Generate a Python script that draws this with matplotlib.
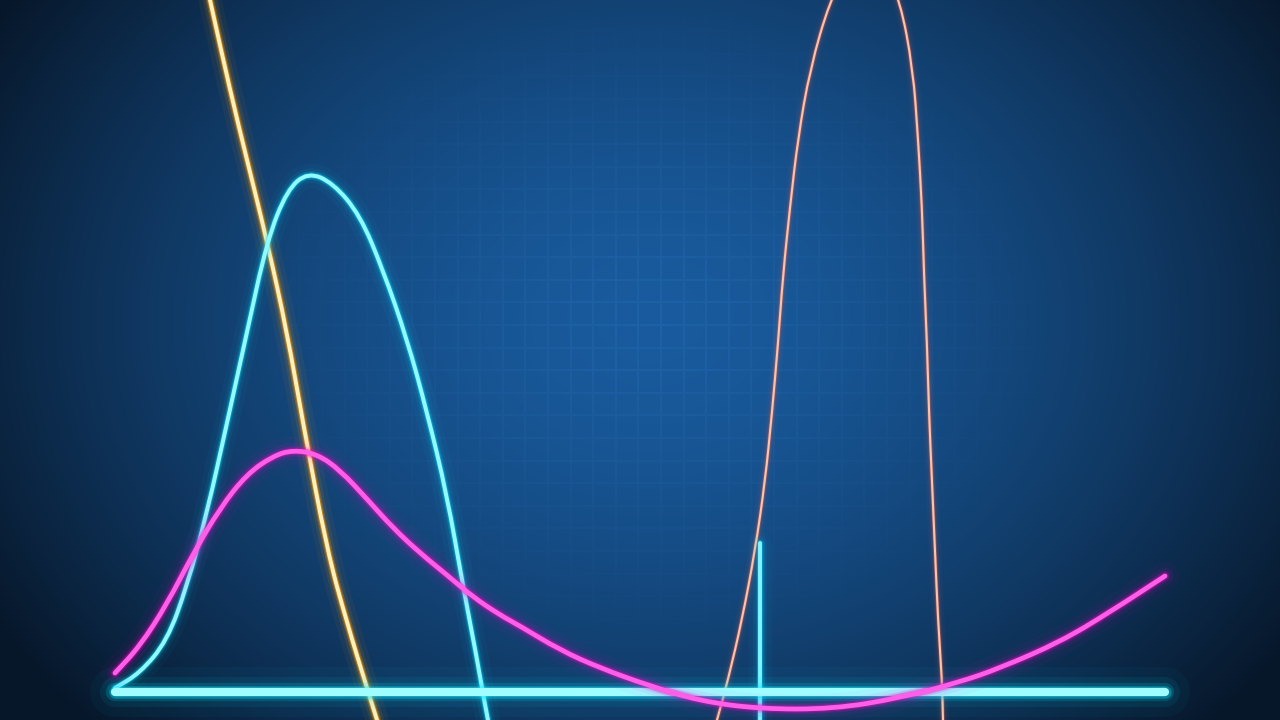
import numpy as np
import matplotlib
matplotlib.use("Agg")
import matplotlib.pyplot as plt
from matplotlib.path import Path
from matplotlib.patches import PathPatch

# curve readings: x in pixels across, y = height above the base line
cyan_x = [115, 140, 167, 187, 207, 227, 247, 267, 287, 308, 333, 360, 383, 407, 427, 447, 463, 477, 483, 488]
cyan_y = [4, 19, 51, 106, 179, 269, 360, 451, 502, 520, 509, 477, 422, 353, 280, 197, 106, 33, -2, -28]

magenta_x = [115, 140, 167, 193, 220, 247, 273, 293, 317, 340, 367, 393, 420, 447, 473, 500, 520,
             560, 600, 650, 700, 760, 833, 900, 960, 1000, 1060, 1110, 1165]
magenta_y = [19, 46, 88, 138, 184, 218, 236, 242, 238, 222, 193, 164, 139, 117, 95, 77, 66,
             42, 24, 6, -9, -17, -17, -6, 10, 24, 50, 80, 116]

orange_x = [210, 230, 247, 267, 287, 303, 327, 347, 367, 377]
orange_y = [692, 602, 532, 451, 360, 269, 142, 69, 4, -28]

peak_x = [717, 728, 742, 755, 765, 772, 778, 783, 790, 798, 810, 830, 848, 865, 884,
          900, 913, 918, 922, 924, 927, 929, 932, 935, 938, 942, 943]
peak_y = [-28, 12, 72, 141, 210, 279, 348, 417, 485, 554, 623, 692, 722, 732, 722,
          692, 623, 554, 485, 417, 348, 279, 210, 141, 72, 12, -28]

base_x = [115, 1165]
base_y = [0, 0]

spike_x = [760, 760]
spike_y = [-28, 149]

W, H = 1280, 720
fig = plt.figure(figsize=(12.8, 7.2), dpi=100)
ax = fig.add_axes([0, 0, 1, 1])
ax.set_xlim(0, W)
ax.set_ylim(-28, 692)
ax.axis('off')

# background: radial gradient + faint grid
yy, xx = np.mgrid[0:H, 0:W]
d = np.sqrt(((xx - 650) / 760.0) ** 2 + ((yy - 320) / 600.0) ** 2)
t = np.clip(d, 0, 1) ** 1.6
c_in = np.array([0x19, 0x5b, 0x9e]) / 255.0
c_out = np.array([0x07, 0x17, 0x2a]) / 255.0
img = c_in[None, None, :] * (1 - t[..., None]) + c_out[None, None, :] * t[..., None]
gx = (np.abs(((xx - 5) % 22.6) - 11.3) > 10.3)
gy = (np.abs(((yy - 8) % 22.6) - 11.3) > 10.3)
grid = (gx | gy).astype(float)
fade = np.clip(1 - d / 0.55, 0, 1)
img = img + grid[..., None] * fade[..., None] * 0.035 * np.array([0.5, 0.8, 1.0])
img = np.clip(img, 0, 1)
ax.imshow(img, extent=(0, W, -28, 692), origin='upper', aspect='auto', zorder=0)


def smooth_path(x, y):
    # quadratic bezier through the midpoints, read points act as controls
    p = np.column_stack([x, y]).astype(float)
    if len(p) < 3:
        return Path(p)
    verts = [p[0], (p[0] + p[1]) / 2]
    codes = [Path.MOVETO, Path.LINETO]
    for i in range(1, len(p) - 1):
        verts += [p[i], (p[i] + p[i + 1]) / 2]
        codes += [Path.CURVE3, Path.CURVE3]
    verts.append(p[-1])
    codes.append(Path.LINETO)
    return Path(verts, codes)


def glow(x, y, core, halo, w, z, boost=1.0):
    path = smooth_path(x, y)
    for k, a in [(6, 0.035), (3.6, 0.07), (2.2, 0.16), (1.5, 0.35)]:
        ax.add_patch(PathPatch(path, fill=False, edgecolor=halo, lw=w * k, alpha=min(a * boost, 1),
                               capstyle='round', joinstyle='round', zorder=z))
    ax.add_patch(PathPatch(path, fill=False, edgecolor=core, lw=w,
                           capstyle='round', joinstyle='round', zorder=z + 0.5))


glow(peak_x, peak_y, '#ffc4a6', '#ff6a5a', 1.5, 2)
glow(orange_x, orange_y, '#fff0b8', '#ff9a00', 2.8, 3, boost=1.5)
glow(cyan_x, cyan_y, '#8ffaff', '#00e1ff', 2.9, 4)
glow(spike_x, spike_y, '#7ff5ff', '#00d8ff', 2.8, 4)
glow(base_x, base_y, '#9ffcff', '#00e5ff', 6.0, 5)
glow(magenta_x, magenta_y, '#ff5ee8', '#ff00cc', 3.4, 6)

fig.savefig('out.png', dpi=100)
